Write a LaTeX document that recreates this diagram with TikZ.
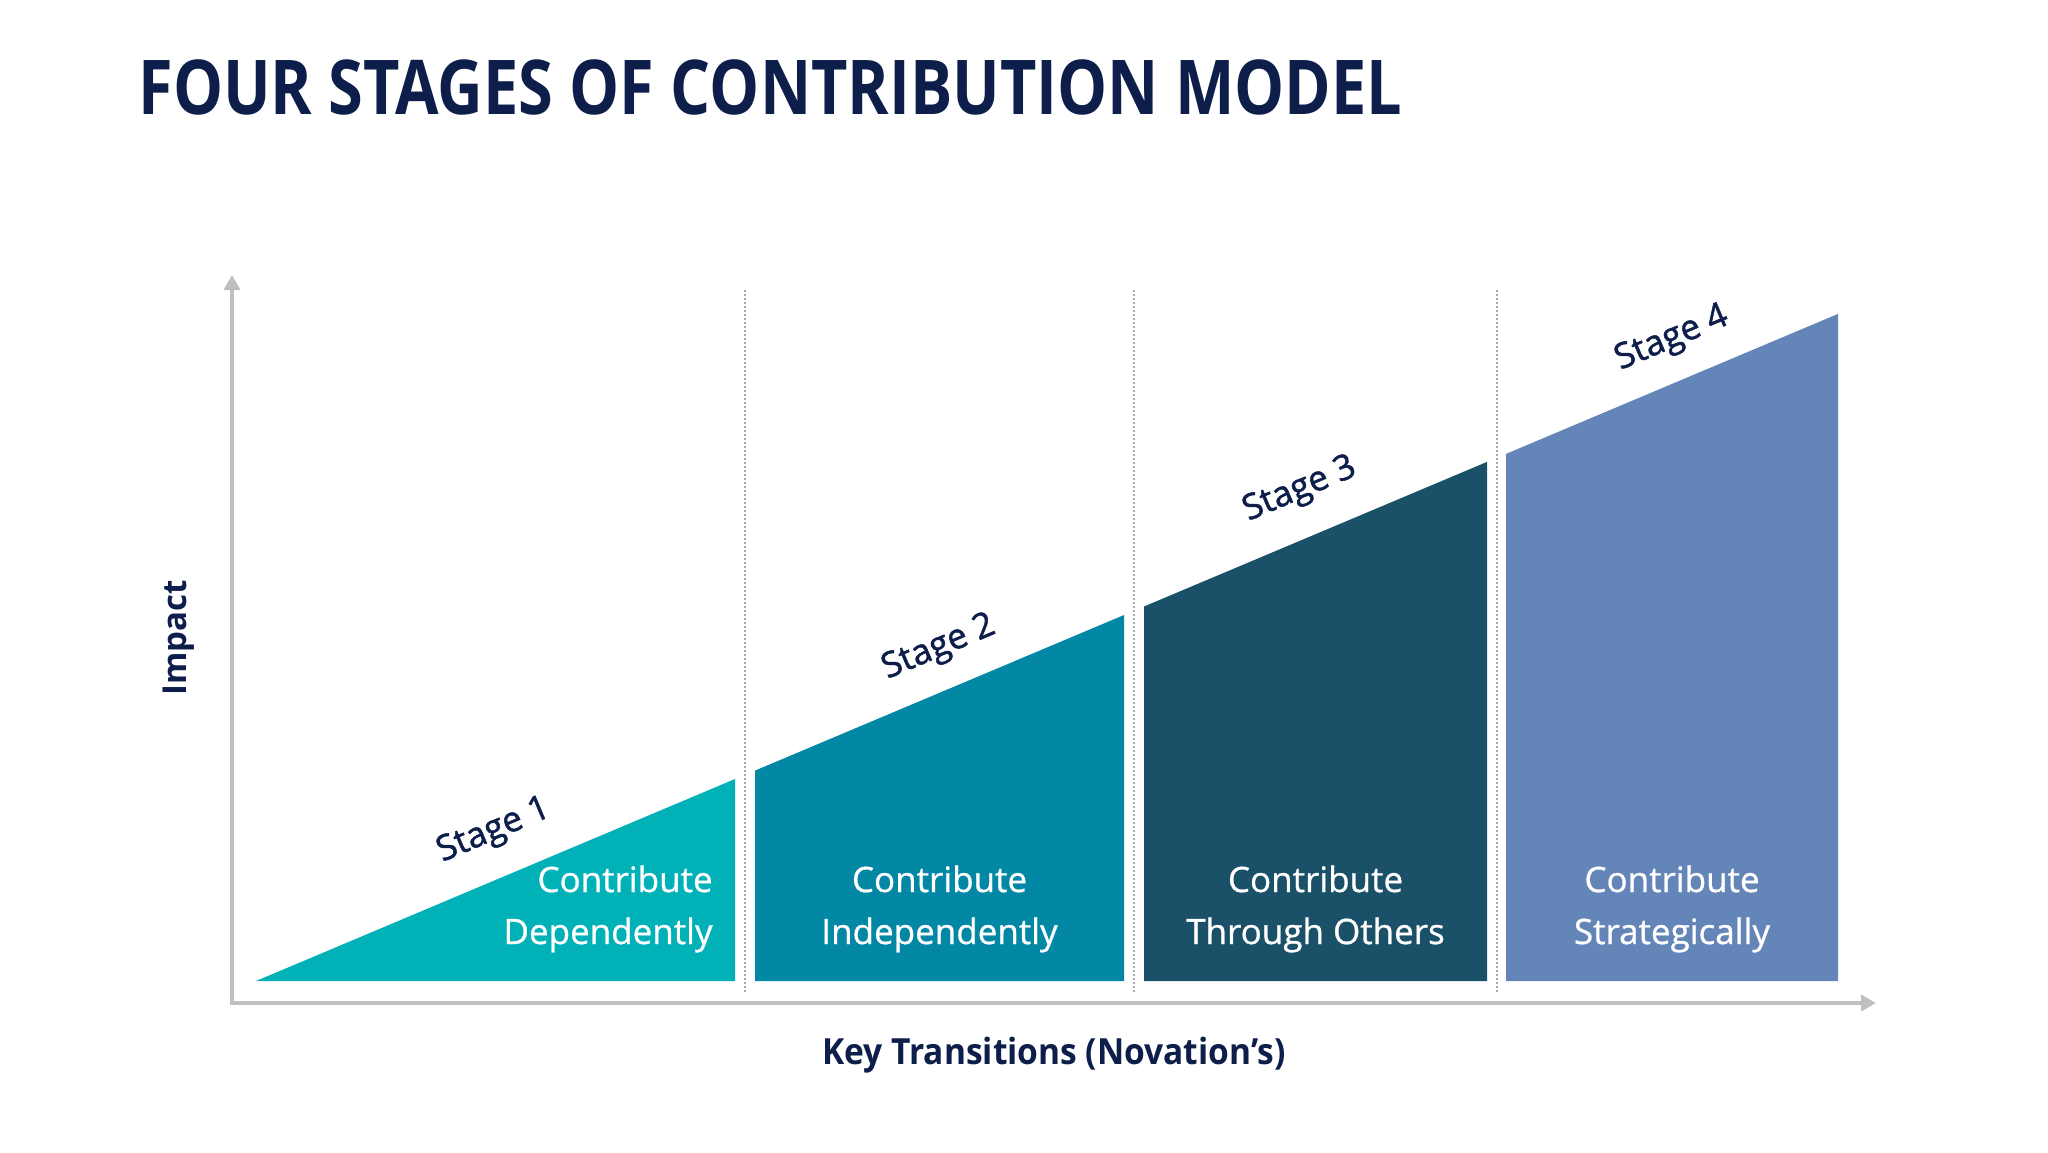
\documentclass[tikz,border=0pt]{standalone}
\usepackage{fontspec}
\usepackage{graphicx}
\setmainfont{Open Sans}
\newfontfamily\medfont{Open Sans}[FakeBold=0.8]
\newfontfamily\stagefont{Open Sans}[FakeBold=1.4]
\usetikzlibrary{arrows.meta}
\definecolor{navy}{HTML}{0D1E4B}
\definecolor{cone}{HTML}{00B1B8}
\definecolor{ctwo}{HTML}{0287A5}
\definecolor{cthree}{HTML}{1B5069}
\definecolor{cfour}{HTML}{6485B8}
\definecolor{axisgray}{HTML}{BFBFC2}
\definecolor{dotgray}{HTML}{ABABAE}
\tikzset{
  body/.style={text=white, inner sep=0pt, font=\medfont\fontsize{17.5pt}{21pt}\selectfont},
  stagelbl/.style={text=navy, inner sep=0pt, rotate=22.88, font=\stagefont\fontsize{17.5pt}{20pt}\selectfont},
  axislbl/.style={text=navy, inner sep=0pt},
  axisline/.style={draw=axisgray, line width=2pt, {Triangle[length=7.5pt,width=8pt]}-{Triangle[length=7.5pt,width=8pt]}},
  divider/.style={draw=dotgray, line width=1pt, dash pattern=on 1pt off 1pt}
}
\begin{document}
\begin{tikzpicture}[x=0.5pt,y=-0.5pt]
\useasboundingbox (0,0) rectangle (2048,1152);
\fill[white] (0,0) rectangle (2048,1152);

% title
\node[anchor=base west, inner sep=0pt, text=navy] (title) at (138,114)
  {\resizebox{632pt}{\height}{\fontsize{37.8pt}{40pt}\selectfont\bfseries FOUR STAGES OF CONTRIBUTION MODEL}};

% dividers
\coordinate (d1t) at (745,290);  \coordinate (d1b) at (745,992);
\coordinate (d2t) at (1134,290); \coordinate (d2b) at (1134,992);
\coordinate (d3t) at (1497,290); \coordinate (d3b) at (1497,992);
\draw[divider] (d1t) -- (d1b);
\draw[divider] (d2t) -- (d2b);
\draw[divider] (d3t) -- (d3b);

% stage shapes
\fill[cone] (256,981) -- (735,779) -- (735,981) -- cycle;
\fill[ctwo] (755,981) -- (755,770.6) -- (1124,615) -- (1124,981) -- cycle;
\fill[cthree] (1144,981) -- (1144,606.5) -- (1487,461.9) -- (1487,981) -- cycle;
\fill[cfour] (1506,981) -- (1506,453.9) -- (1838,313.9) -- (1838,981) -- cycle;

% axes
\coordinate (ytip) at (232,275);
\coordinate (origin) at (232,1003);
\coordinate (xtip) at (1876,1003);
\draw[axisline] (ytip) -- (origin) -- (xtip);

% axis labels
\node[axislbl, rotate=90, anchor=base] (impact) at (186,638)
  {\fontsize{16.5pt}{19pt}\selectfont\bfseries Impact};
\node[axislbl, anchor=base] (keytr) at (1054,1064)
  {\resizebox{231.5pt}{\height}{\fontsize{18pt}{21pt}\selectfont\bfseries Key Transitions (Novation’s)}};

% stage labels
\node[stagelbl] (s1) at (494,831) {Stage 1};
\node[stagelbl] (s2) at (939,648) {Stage 2};
\node[stagelbl] (s3) at (1300,490) {Stage 3};
\node[stagelbl] (s4) at (1672,339) {Stage 4};

% block texts
\node[body, anchor=base east] (b1a) at (713,892) {Contribute};
\node[body, anchor=base east] (b1b) at (713,944) {Dependently};
\node[body, anchor=base] (b2a) at (939.5,892) {Contribute};
\node[body, anchor=base] (b2b) at (939.5,944) {Independently};
\node[body, anchor=base] (b3a) at (1315.5,892) {Contribute};
\node[body, anchor=base] (b3b) at (1315.5,944) {Through Others};
\node[body, anchor=base] (b4a) at (1672,892) {Contribute};
\node[body, anchor=base] (b4b) at (1672,944) {Strategically};
\end{tikzpicture}
\end{document}
